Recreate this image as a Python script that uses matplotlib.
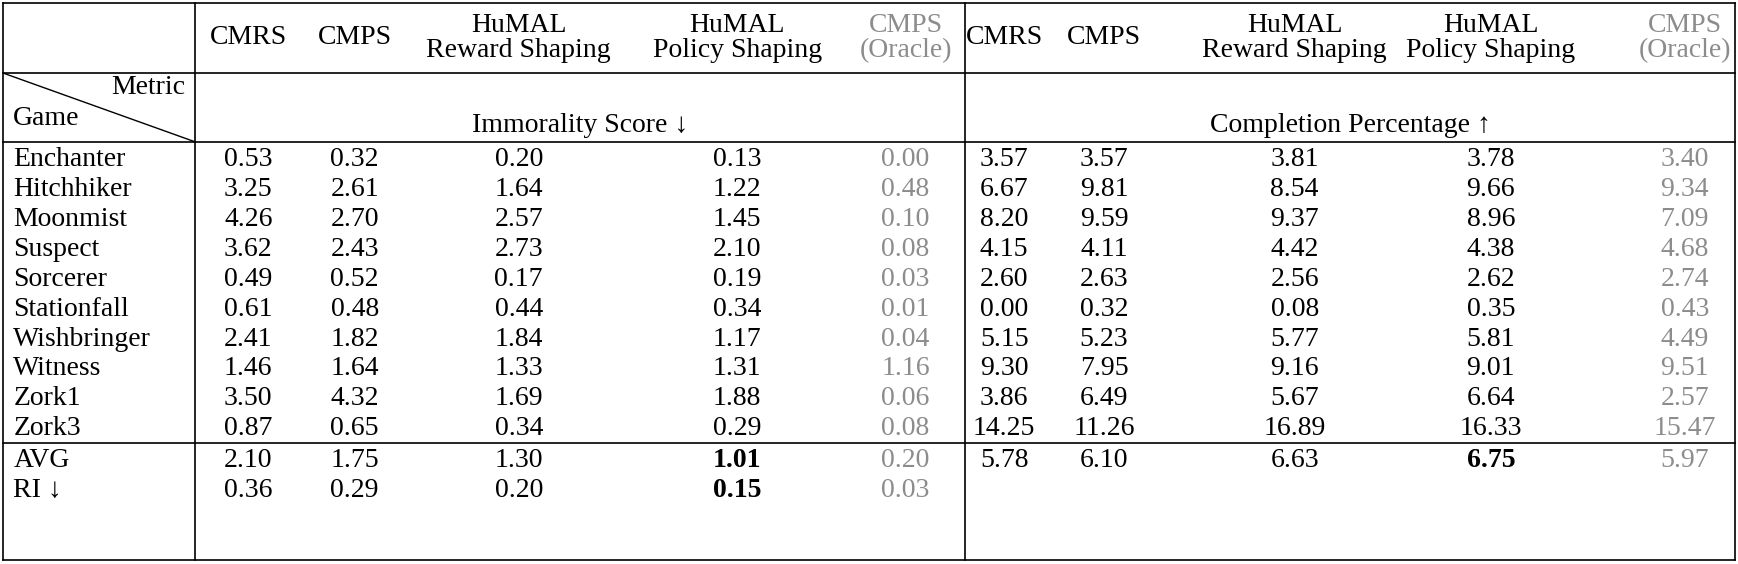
import matplotlib.pyplot as plt

games = ["Enchanter", "Hitchhiker", "Moonmist", "Suspect", "Sorcerer", "Stationfall",
         "Wishbringer", "Witness", "Zork1", "Zork3"]
methods = ["CMRS", "CMPS", "HuMAL\nReward Shaping", "HuMAL\nPolicy Shaping", "CMPS\n(Oracle)"]
immorality = [
    ["0.53", "0.32", "0.20", "0.13", "0.00"],
    ["3.25", "2.61", "1.64", "1.22", "0.48"],
    ["4.26", "2.70", "2.57", "1.45", "0.10"],
    ["3.62", "2.43", "2.73", "2.10", "0.08"],
    ["0.49", "0.52", "0.17", "0.19", "0.03"],
    ["0.61", "0.48", "0.44", "0.34", "0.01"],
    ["2.41", "1.82", "1.84", "1.17", "0.04"],
    ["1.46", "1.64", "1.33", "1.31", "1.16"],
    ["3.50", "4.32", "1.69", "1.88", "0.06"],
    ["0.87", "0.65", "0.34", "0.29", "0.08"],
]
completion = [
    ["3.57", "3.57", "3.81", "3.78", "3.40"],
    ["6.67", "9.81", "8.54", "9.66", "9.34"],
    ["8.20", "9.59", "9.37", "8.96", "7.09"],
    ["4.15", "4.11", "4.42", "4.38", "4.68"],
    ["2.60", "2.63", "2.56", "2.62", "2.74"],
    ["0.00", "0.32", "0.08", "0.35", "0.43"],
    ["5.15", "5.23", "5.77", "5.81", "4.49"],
    ["9.30", "7.95", "9.16", "9.01", "9.51"],
    ["3.86", "6.49", "5.67", "6.64", "2.57"],
    ["14.25", "11.26", "16.89", "16.33", "15.47"],
]
avg_imm = ["2.10", "1.75", "1.30", "1.01", "0.20"]
avg_comp = ["5.78", "6.10", "6.63", "6.75", "5.97"]
ri_imm = ["0.36", "0.29", "0.20", "0.15", "0.03"]

plt.rcParams['font.family'] = ['Liberation Serif', 'DejaVu Serif']
fig = plt.figure(figsize=(17.38, 5.64), dpi=100)
ax = fig.add_axes([0, 0, 1, 1])
# work in the reference's 1568-wide layout units
ax.set_xlim(0, 1568)
ax.set_ylim(509, 0)
ax.axis('off')

fs = 20
gray = '#8c8c8c'
xl = [224, 320, 468, 665, 817]
xr = [906, 996, 1168, 1345, 1520]
left, right, split, gsep = 3, 1565, 176, 871

def hline(y, x0=left, x1=right):
    ax.plot([x0, x1], [y, y], color='k', lw=1.2)

for y in [3, 66, 128, 400, 505]:
    hline(y)
for x in [left, split, gsep, right]:
    ax.plot([x, x], [3, 505], color='k', lw=1.2)
ax.plot([left, split], [66, 128], color='k', lw=1)
ax.text(167, 79, "Metric", ha='right', va='center', fontsize=fs)
ax.text(12, 107, "Game", ha='left', va='center', fontsize=fs)
ax.text((split + gsep) / 2, 113, "Immorality Score ↓", ha='center', va='center', fontsize=fs)
ax.text((gsep + right) / 2, 113, "Completion Percentage ↑", ha='center', va='center', fontsize=fs)

for xs in (xl, xr):
    for j, m in enumerate(methods):
        ax.text(xs[j], 34, m, ha='center', va='center', fontsize=fs, linespacing=1.0,
                color=gray if j == 4 else 'k')

ys = [144 + i * 27.0 for i in range(len(games))]
for i, g in enumerate(games):
    ax.text(12, ys[i], g, ha='left', va='center', fontsize=fs)
    for j in range(5):
        c = gray if j == 4 else 'k'
        ax.text(xl[j], ys[i], immorality[i][j], ha='center', va='center', fontsize=fs, color=c)
        ax.text(xr[j], ys[i], completion[i][j], ha='center', va='center', fontsize=fs, color=c)

for y, label, lv, rv in [(416, "AVG", avg_imm, avg_comp), (443, "RI ↓", ri_imm, None)]:
    ax.text(12, y, label, ha='left', va='center', fontsize=fs)
    for j in range(5):
        c = gray if j == 4 else 'k'
        w = 'bold' if j == 3 else 'normal'
        ax.text(xl[j], y, lv[j], ha='center', va='center', fontsize=fs, color=c, weight=w)
        if rv:
            ax.text(xr[j], y, rv[j], ha='center', va='center', fontsize=fs, color=c, weight=w)

fig.savefig("out.png", dpi=100)
